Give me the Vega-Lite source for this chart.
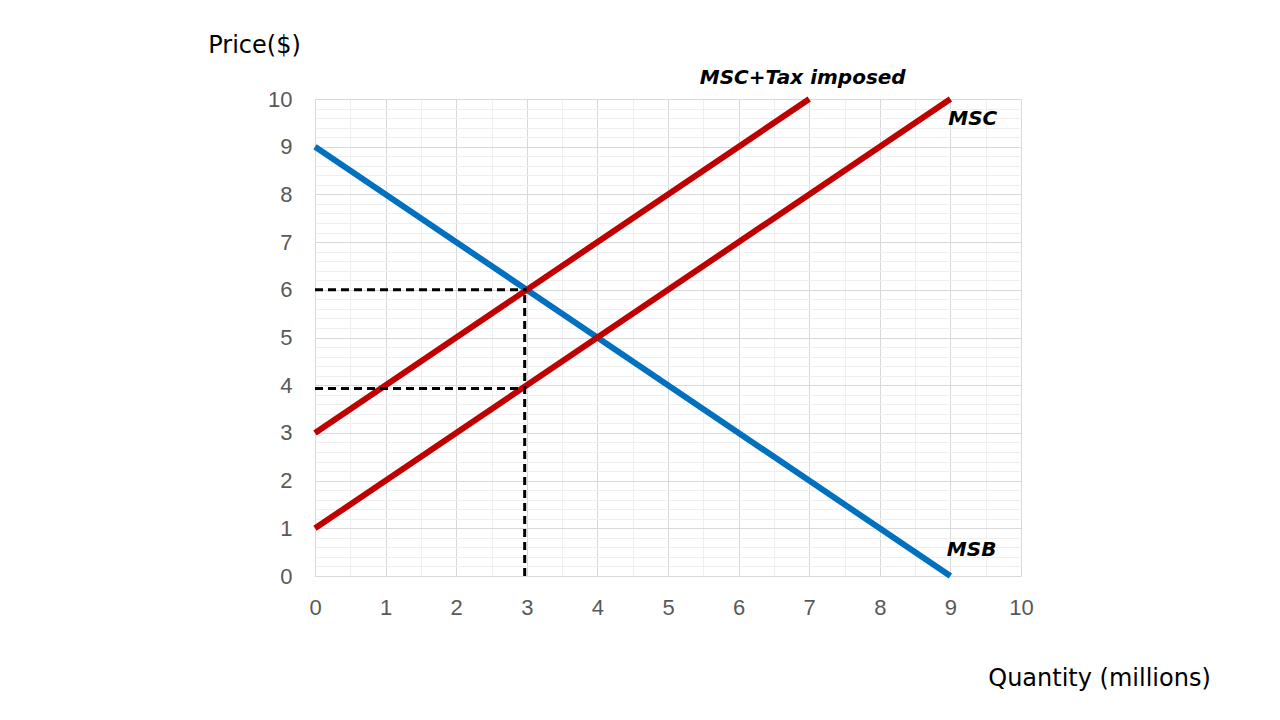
{
  "$schema": "https://vega.github.io/schema/vega-lite/v6.json",
  "width": 706,
  "height": 477,
  "autosize": {"type": "none"},
  "padding": {"left": 315, "top": 99, "right": 259, "bottom": 144},
  "background": "white",
  "config": {
    "view": {"stroke": null},
    "font": "Liberation Sans"
  },
  "datasets": {
    "curves": [
      {"curve": "MSB", "q": 0, "p": 9},
      {"curve": "MSB", "q": 9, "p": 0},
      {"curve": "MSC", "q": 0, "p": 1},
      {"curve": "MSC", "q": 9, "p": 10},
      {"curve": "MSC+Tax imposed", "q": 0, "p": 3},
      {"curve": "MSC+Tax imposed", "q": 7, "p": 10}
    ],
    "guides": [
      {"q": 0, "q2": 3, "p": 6, "p2": 6},
      {"q": 0, "q2": 2.97, "p": 3.93, "p2": 3.93},
      {"q": 2.97, "q2": 2.97, "p": 0, "p2": 6}
    ],
    "names": [
      {"name": "MSC+Tax imposed", "q": 5.45, "p": 10.44},
      {"name": "MSC", "q": 8.97, "p": 9.58},
      {"name": "MSB", "q": 8.95, "p": 0.55}
    ]
  },
  "layer": [
    {
      "data": {"name": "curves"},
      "mark": {"type": "line", "strokeWidth": 6, "strokeCap": "butt"},
      "encoding": {
        "x": {
          "field": "q", "type": "quantitative",
          "scale": {"domain": [0, 10], "nice": false},
          "axis": {
            "orient": "bottom", "labels": false, "ticks": false, "domain": false, "title": null,
            "values": [0.5, 1.5, 2.5, 3.5, 4.5, 5.5, 6.5, 7.5, 8.5, 9.5],
            "grid": true, "gridColor": "#efefef", "gridWidth": 1
          }
        },
        "y": {
          "field": "p", "type": "quantitative",
          "scale": {"domain": [0, 10], "nice": false},
          "axis": {
            "orient": "left", "labels": false, "ticks": false, "domain": false, "title": null,
            "values": [0.2, 0.4, 0.6, 0.8, 1.2, 1.4, 1.6, 1.8, 2.2, 2.4, 2.6, 2.8, 3.2, 3.4, 3.6, 3.8, 4.2, 4.4, 4.6, 4.8, 5.2, 5.4, 5.6, 5.8, 6.2, 6.4, 6.6, 6.8, 7.2, 7.4, 7.6, 7.8, 8.2, 8.4, 8.6, 8.8, 9.2, 9.4, 9.6, 9.8],
            "grid": true, "gridColor": "#efefef", "gridWidth": 1
          }
        },
        "color": {
          "field": "curve", "type": "nominal",
          "scale": {"domain": ["MSB", "MSC", "MSC+Tax imposed"], "range": ["#0070C0", "#C00000", "#C00000"]},
          "legend": null
        }
      }
    },
    {
      "data": {"name": "guides"},
      "mark": {"type": "rule", "color": "#000000", "strokeWidth": 3, "strokeDash": [8, 5]},
      "encoding": {
        "x": {
          "field": "q", "type": "quantitative",
          "axis": {
            "orient": "bottom", "values": [0, 1, 2, 3, 4, 5, 6, 7, 8, 9, 10],
            "ticks": false, "domain": false, "grid": true, "gridColor": "#d9d9d9", "gridWidth": 1,
            "labelFontSize": 22, "labelColor": "#595959", "labelPadding": 21, "labelFont": "Liberation Sans",
            "labelFlush": false, "labelOverlap": false,
            "title": "Quantity (millions)", "titleFontSize": 24, "titleFontWeight": "normal", "titleColor": "#000000",
            "titleFont": "DejaVu Sans", "titleAlign": "center", "titleBaseline": "middle", "titleAnchor": null,
            "titleX": 784, "titleY": 102
          }
        },
        "x2": {"field": "q2"},
        "y": {
          "field": "p", "type": "quantitative",
          "axis": {
            "orient": "left", "values": [0, 1, 2, 3, 4, 5, 6, 7, 8, 9, 10],
            "ticks": false, "domain": false, "grid": true, "gridColor": "#d9d9d9", "gridWidth": 1,
            "labelFontSize": 22, "labelColor": "#595959", "labelPadding": 23, "labelFont": "Liberation Sans",
            "labelFlush": false, "labelOverlap": false,
            "title": "Price($)", "titleFontSize": 24, "titleFontWeight": "normal", "titleColor": "#000000",
            "titleFont": "DejaVu Sans", "titleAngle": 0, "titleAlign": "center", "titleBaseline": "middle", "titleAnchor": null,
            "titleX": -61, "titleY": -54
          }
        },
        "y2": {"field": "p2"}
      }
    },
    {
      "data": {"name": "names"},
      "mark": {"type": "text", "align": "left", "baseline": "middle", "fontSize": 20, "fontStyle": "italic", "fontWeight": "bold", "font": "DejaVu Sans", "color": "#000000"},
      "encoding": {
        "x": {"field": "q", "type": "quantitative", "axis": null},
        "y": {"field": "p", "type": "quantitative", "axis": null},
        "text": {"field": "name"}
      }
    }
  ],
  "resolve": {
    "scale": {"x": "shared", "y": "shared"},
    "axis": {"x": "independent", "y": "independent"}
  }
}
